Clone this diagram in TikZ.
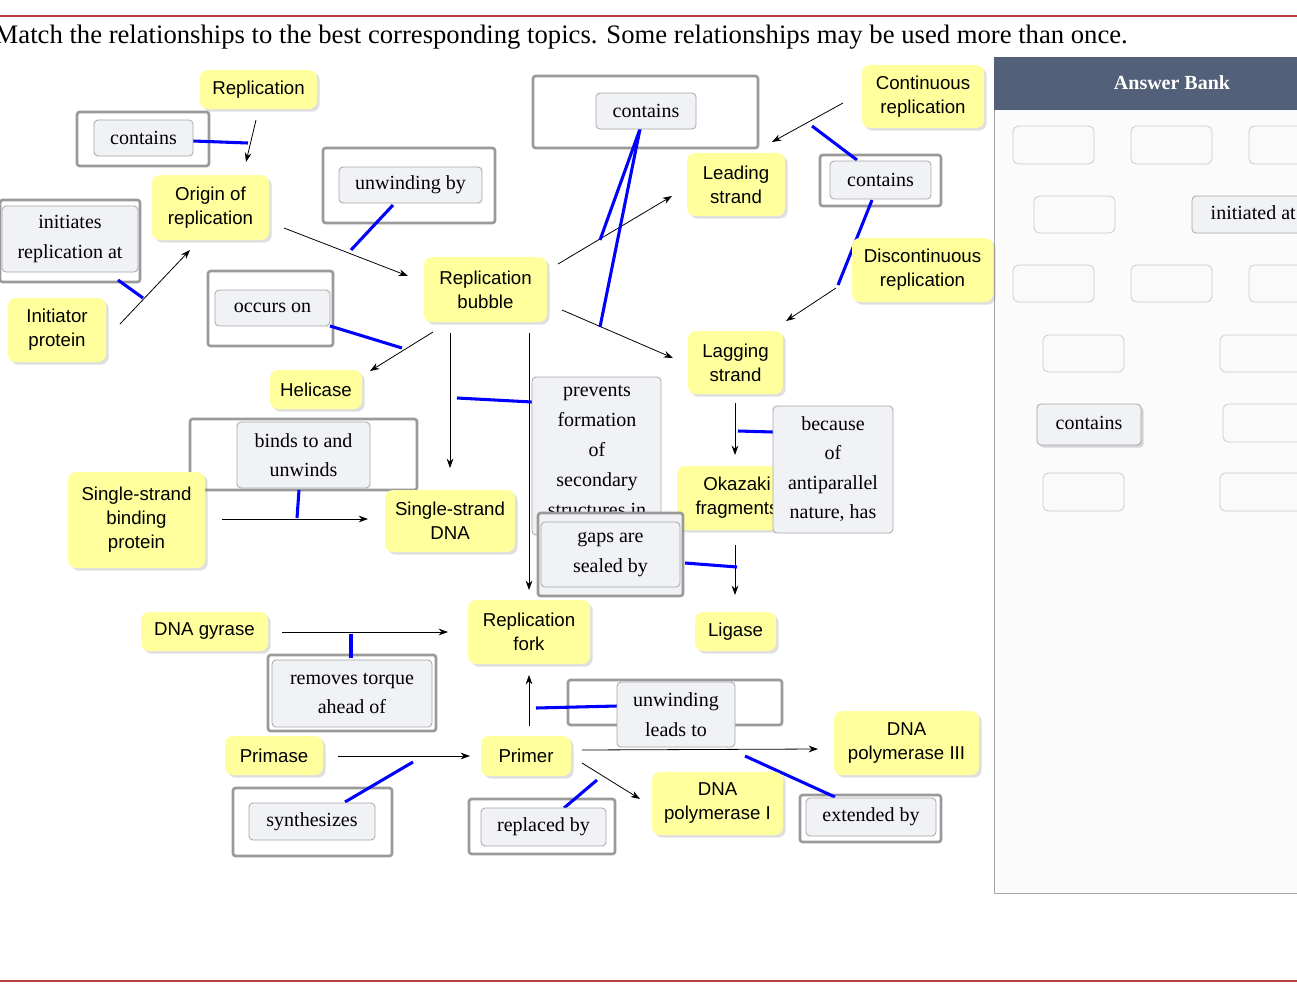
\documentclass[tikz,border=0pt]{standalone}
\usepackage{fontspec}
\setmainfont{Liberation Serif}
\setsansfont{Liberation Sans}
\usetikzlibrary{shadows,arrows.meta}
\definecolor{ylw}{HTML}{FFFF9E}
\definecolor{lnk}{HTML}{F1F2F6}
\definecolor{frm}{HTML}{9A9A9A}
\definecolor{hdr}{HTML}{536079}
\definecolor{redl}{HTML}{B84040}
\tikzset{
  ybox/.style={fill=ylw,rounded corners=6pt,drop shadow={opacity=0.25,shadow xshift=2pt,shadow yshift=-2pt,fill=gray}},
  ytxt/.style={font=\sffamily\fontsize{14}{18}\selectfont,align=center},
  outerf/.style={draw=frm,line width=2pt,rounded corners=2pt},
  innerf/.style={draw=gray!70,fill=lnk,rounded corners=3pt,line width=0.6pt},
  ltxt/.style={font=\fontsize{15}{22}\selectfont,align=center},
  arr/.style={-{Stealth[length=7pt,width=5pt]},line width=0.6pt},
  bl/.style={blue,line width=2.3pt},
  slot/.style={draw=gray!40,fill=white!96!gray,rounded corners=4pt,line width=0.6pt}
}
\newcommand{\ynd}[6]{\path[ybox] (#2,#3) rectangle (#4,#5); \node[ytxt] (#1) at ({(#2+#4)/2},{(#3+#5)/2}) {#6};}
\newcommand{\lnd}[6]{\path[innerf] (#2,#3) rectangle (#4,#5); \node[ltxt] (#1) at ({(#2+#4)/2},{(#3+#5)/2}) {#6};}
\newcommand{\ofr}[4]{\draw[outerf] (#1,#2) rectangle (#3,#4);}
\begin{document}
\begin{tikzpicture}[x=0.75pt,y=-0.75pt]
\useasboundingbox (0,0) rectangle (1297,983);
\fill[white] (0,0) rectangle (1297,983);
\draw[redl,line width=1.5pt] (0,16) -- (1297,16);
\draw[redl,line width=1.5pt] (0,981) -- (1297,981);
\node[anchor=west,font=\fontsize{20}{24}\selectfont] (title) at (-10,37) {Match the relationships to the best corresponding topics. Some relationships may be used more than once.};
% answer bank
\fill[white!97!gray] (994,57) rectangle (1297,893);
\draw[gray!70] (994,893) -- (994,57) -- (1297,57);
\draw[gray!70] (994,893) -- (1297,893);
\fill[hdr] (994,57) rectangle (1297,110);
\node[white,font=\fontsize{15}{18}\selectfont\bfseries] (ab) at (1172,83) {Answer Bank};
\foreach \a/\b/\c/\d in {1013/126/1094/164,1131/126/1212/164,1249/126/1310/164,1034/196/1115/233,1013/265/1094/302,1131/265/1212/302,1249/265/1310/302,1043/335/1124/372,1220/335/1310/372,1223/404/1310/442,1043/473/1124/511,1220/473/1310/511}
  \path[slot] (\a,\b) rectangle (\c,\d);
\path[innerf] (1192,196) rectangle (1310,233);
\node[ltxt,anchor=west] (ia) at (1206,213) {initiated at};
\path[innerf,drop shadow={opacity=0.3,shadow xshift=2pt,shadow yshift=-2pt}] (1037,404) rectangle (1141,445);
\node[ltxt] (ca) at (1089,423) {contains};
% outer frames
\ofr{77}{112}{209}{166}
\ofr{323}{148}{495}{223}
\ofr{0}{200}{140}{282}
\ofr{208}{271}{333}{346}
\ofr{533}{76}{758}{148}
\ofr{820}{155}{941}{206}
\ofr{190}{419}{417}{490}
\ofr{268}{655}{436}{731}
\ofr{568}{680}{782}{725}
\ofr{233}{788}{392}{856}
\ofr{469}{799}{615}{854}
\ofr{800}{795}{941}{842}
% arrows
\draw[arr] (256,120) -- (246,162);
\draw[arr] (284,228) -- (408,276);
\draw[arr] (120,324) -- (190,250);
\draw[arr] (558,264) -- (672,196);
\draw[arr] (562,310) -- (673,358);
\draw[arr] (843,103) -- (772,142);
\draw[arr] (836,288) -- (786,321);
\draw[arr] (433,332) -- (370,371);
\draw[arr] (450,333) -- (450,468);
\draw[arr] (529,333) -- (529,590);
\draw[arr] (222,519) -- (368,519);
\draw[arr] (735,403) -- (735,455);
\draw[arr] (735,545) -- (735,595);
\draw[arr] (282,632) -- (448,632);
\draw[arr] (529,726) -- (529,675);
\draw[arr] (338,756) -- (470,756);
\draw[arr] (582,750) -- (818,749);
\draw[arr] (582,763) -- (640,799);
% blue lines
\draw[bl] (193,141) -- (248,143);
\draw[bl] (393,205) -- (351,250);
\draw[bl] (118,280) -- (143,298);
\draw[bl] (640,129) -- (600,240);
\draw[bl] (640,129) -- (600,327);
\draw[bl] (812,126) -- (857,160);
\draw[bl] (872,200) -- (838,285);
\draw[bl] (330,326) -- (402,348);
\draw[bl] (457,398) -- (532,402);
\draw[bl] (299,490) -- (297,518);
\draw[bl] (738,431) -- (773,432);
\draw[bl] (685,563) -- (737,567);
\draw[bl] (351,634) -- (351,658);
\draw[bl] (536,708) -- (617,706);
\draw[bl] (413,762) -- (345,802);
\draw[bl] (745,756) -- (835,797);
\draw[bl] (597,780) -- (564,808);
% yellow nodes
\ynd{rep}{200}{70}{317}{109}{Replication}
\ynd{ori}{152}{175}{269}{240}{Origin of\\replication}
\ynd{ini}{8}{298}{106}{362}{Initiator\\protein}
\ynd{bub}{424}{257}{547}{322}{Replication\\bubble}
\ynd{con}{862}{65}{984}{128}{Continuous\\replication}
\ynd{lead}{687}{153}{785}{216}{Leading\\strand}
\ynd{dis}{852}{238}{993}{302}{Discontinuous\\replication}
\ynd{lag}{688}{331}{783}{394}{Lagging\\strand}
\ynd{hel}{270}{370}{362}{409}{Helicase}
\ynd{ssb}{68}{472}{205}{568}{Single-strand\\binding\\protein}
\ynd{ssd}{385}{490}{515}{552}{Single-strand\\DNA}
\ynd{oka}{677}{466}{797}{530}{Okazaki\\fragments}
\ynd{gyr}{141}{612}{268}{651}{DNA gyrase}
\ynd{fork}{468}{600}{590}{664}{Replication\\fork}
\ynd{lig}{695}{612}{776}{651}{Ligase}
\ynd{prm}{225}{736}{323}{775}{Primase}
\ynd{pri}{481}{736}{571}{776}{Primer}
\ynd{p3}{834}{711}{979}{775}{DNA\\polymerase III}
\ynd{p1}{652}{772}{783}{835}{DNA\\polymerase I}
% link labels
\lnd{c1}{94}{120}{193}{156}{contains}
\lnd{ub}{339}{167}{482}{203}{unwinding by}
\lnd{ira}{2}{206}{138}{272}{initiates\\replication at}
\lnd{oo}{215}{290}{330}{326}{occurs on}
\lnd{c2}{596}{93}{696}{129}{contains}
\lnd{c3}{830}{161}{931}{199}{contains}
\lnd{bu}{237}{422}{370}{488}{binds to and\\unwinds}
\begin{scope}
\path[innerf] (532,377) rectangle (661,535);
\clip (532,377) rectangle (661,526);
\node[ltxt,anchor=north,font=\fontsize{15}{22.5}\selectfont] (pf) at (597,381) {prevents\\formation\\of\\secondary\\structures in};
\end{scope}
\draw[outerf,fill=lnk] (538,513) rectangle (683,596);
\lnd{gs}{541}{522}{680}{587}{gaps are\\sealed by}
\path[innerf] (773,406) rectangle (893,533);
\node[ltxt] (bc) at (833,469) {because\\of\\antiparallel\\nature, has};
\lnd{rt}{272}{660}{432}{727}{removes torque\\ahead of}
\lnd{ul}{617}{682}{735}{747}{unwinding\\leads to}
\lnd{sy}{249}{803}{375}{840}{synthesizes}
\lnd{rb}{481}{808}{606}{846}{replaced by}
\lnd{eb}{806}{798}{936}{836}{extended by}
\end{tikzpicture}
\end{document}
